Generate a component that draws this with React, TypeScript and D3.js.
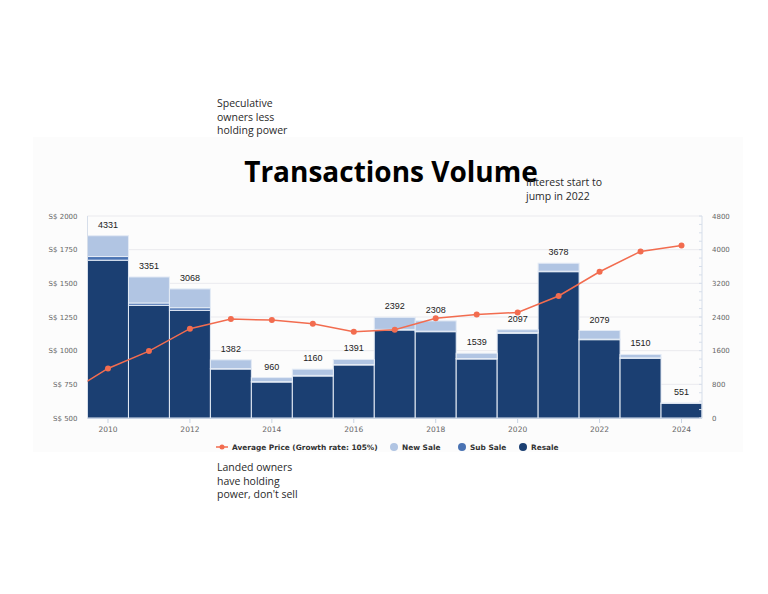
import { useEffect, useRef } from "react"
import * as d3 from "d3"

const years = [2010, 2011, 2012, 2013, 2014, 2015, 2016, 2017, 2018, 2019, 2020, 2021, 2022, 2023, 2024]
const resale = [3750, 2678, 2559, 1164, 855, 998, 1260, 2091, 2051, 1402, 2013, 3477, 1861, 1419, 350]
const subSale = [87, 55, 62, 10, 10, 15, 11, 15, 12, 12, 20, 11, 13, 11, 0]
const newSale = [494, 618, 447, 208, 95, 147, 120, 286, 245, 125, 64, 190, 205, 80, 5]
const totalLabels = [4331, 3351, 3068, 1382, 960, 1160, 1391, 2392, 2308, 1539, 2097, 3678, 2079, 1510, 551]

// price line starts one year before the plot, so it enters from the left edge
const priceYears = [2009, 2010, 2011, 2012, 2013, 2014, 2015, 2016, 2017, 2018, 2019, 2020, 2021, 2022, 2023, 2024]
const avgPrice = [682, 868, 997, 1163, 1235, 1227, 1200, 1141, 1156, 1240, 1269, 1284, 1406, 1586, 1737, 1781]

const leftTicks = [500, 750, 1000, 1250, 1500, 1750, 2000]
const rightTicks = [0, 800, 1600, 2400, 3200, 4000, 4800]
const xTicks = [2010, 2012, 2014, 2016, 2018, 2020, 2022, 2024]

const seriesNames = ["Resale", "Sub Sale", "New Sale"]
const colors: Record<string, string> = {
  Resale: "#1b3f72",
  "Sub Sale": "#4a73b3",
  "New Sale": "#b1c5e3",
}
const lineColor = "#f26c4f"

const notes = [
  { x: 217, y: 107, lines: ["Speculative", "owners less", "holding power"] },
  { x: 526, y: 186, lines: ["Interest start to", "jump in 2022"] },
  { x: 217, y: 471, lines: ["Landed owners", "have holding", "power, don't sell"] },
]

export default function App() {
  const svgRef = useRef<SVGSVGElement>(null)

  useEffect(() => {
    if (!svgRef.current) return
    const svg = d3.select(svgRef.current)
    svg.selectAll("*").remove()

    const left = 87.5
    const right = 702
    const top = 216
    const bottom = 418

    // card background
    svg.append("rect").attr("x", 33).attr("y", 137).attr("width", 710).attr("height", 315).attr("fill", "#fcfcfc")

    const x = d3.scaleLinear().domain([2009.5, 2024.5]).range([left, right])
    const yL = d3.scaleLinear().domain([500, 2000]).range([bottom, top])
    const yR = d3.scaleLinear().domain([0, 4800]).range([bottom, top])

    // gridlines
    svg
      .selectAll(".grid")
      .data(rightTicks)
      .enter()
      .append("line")
      .attr("x1", left)
      .attr("x2", right)
      .attr("y1", (d) => yR(d))
      .attr("y2", (d) => yR(d))
      .attr("stroke", "#eaeaee")
      .attr("stroke-width", 1)

    // stacked bars
    const rows = years.map((yr, i) => ({ year: yr, Resale: resale[i], "Sub Sale": subSale[i], "New Sale": newSale[i] }))
    const stack = d3.stack<any>().keys(seriesNames)(rows)

    svg
      .selectAll(".layer")
      .data(stack)
      .enter()
      .append("g")
      .attr("fill", (d) => colors[d.key])
      .selectAll("rect")
      .data((d) => d)
      .enter()
      .append("rect")
      .attr("x", (d) => x(d.data.year - 0.5))
      .attr("width", (d) => x(d.data.year + 0.5) - x(d.data.year - 0.5))
      .attr("y", (d) => yR(d[1]))
      .attr("height", (d) => yR(d[0]) - yR(d[1]))
      .attr("stroke", "#e4ebf5")
      .attr("stroke-width", 1)

    // total labels above bars
    const tops = stack[stack.length - 1]
    svg
      .selectAll(".total")
      .data(tops)
      .enter()
      .append("text")
      .attr("x", (d) => x(d.data.year))
      .attr("y", (d) => yR(d[1]) - 8)
      .attr("text-anchor", "middle")
      .style("font-family", "Liberation Sans, Arial, sans-serif")
      .style("font-size", "9px")
      .style("fill", "#222")
      .text((d, i) => totalLabels[i])

    // axis lines
    svg.append("line").attr("x1", left).attr("x2", left).attr("y1", top).attr("y2", bottom).attr("stroke", "#d6deea")
    svg.append("line").attr("x1", right).attr("x2", right).attr("y1", top).attr("y2", bottom).attr("stroke", "#d6deea")
    svg.append("line").attr("x1", left).attr("x2", right).attr("y1", bottom + 0.5).attr("y2", bottom + 0.5).attr("stroke", "#c8d3e3")

    // minor ticks on right axis
    svg
      .selectAll(".minor")
      .data(d3.range(0, 4801, 200))
      .enter()
      .append("line")
      .attr("x1", right - 3)
      .attr("x2", right)
      .attr("y1", (d) => yR(d))
      .attr("y2", (d) => yR(d))
      .attr("stroke", "#d6deea")

    // x ticks
    svg
      .selectAll(".xtick")
      .data(xTicks)
      .enter()
      .append("line")
      .attr("x1", (d) => x(d))
      .attr("x2", (d) => x(d))
      .attr("y1", bottom)
      .attr("y2", bottom + 5)
      .attr("stroke", "#c8d3e3")

    const axisFont = "DejaVu Sans, Verdana, sans-serif"
    svg
      .selectAll(".xlabel")
      .data(xTicks)
      .enter()
      .append("text")
      .attr("x", (d) => x(d))
      .attr("y", 432)
      .attr("text-anchor", "middle")
      .style("font-family", axisFont)
      .style("font-size", "7.5px")
      .style("fill", "#666")
      .text((d) => d)

    svg
      .selectAll(".ylabel")
      .data(leftTicks)
      .enter()
      .append("text")
      .attr("x", 77.5)
      .attr("y", (d) => yL(d) + 2.5)
      .attr("text-anchor", "end")
      .style("font-family", axisFont)
      .style("font-size", "7px")
      .style("fill", "#666")
      .text((d) => `S$ ${d}`)

    svg
      .selectAll(".rlabel")
      .data(rightTicks)
      .enter()
      .append("text")
      .attr("x", 712)
      .attr("y", (d) => yR(d) + 2.5)
      .style("font-family", axisFont)
      .style("font-size", "7px")
      .style("fill", "#666")
      .text((d) => d)

    // average price line, clipped to plot area
    svg
      .append("clipPath")
      .attr("id", "plot-clip")
      .append("rect")
      .attr("x", left)
      .attr("y", top - 10)
      .attr("width", right - left)
      .attr("height", bottom - top + 10)

    const pts = priceYears.map((yr, i) => [yr, avgPrice[i]] as [number, number])
    const line = d3
      .line<[number, number]>()
      .x((d) => x(d[0]))
      .y((d) => yL(d[1]))

    const lg = svg.append("g").attr("clip-path", "url(#plot-clip)")
    lg.append("path").attr("d", line(pts)).attr("fill", "none").attr("stroke", lineColor).attr("stroke-width", 1.5)
    lg.selectAll("circle")
      .data(pts.filter((d) => d[0] >= 2010))
      .enter()
      .append("circle")
      .attr("cx", (d) => x(d[0]))
      .attr("cy", (d) => yL(d[1]))
      .attr("r", 3)
      .attr("fill", lineColor)

    // legend
    const legend = [
      { label: "Average Price (Growth rate: 105%)", color: lineColor, type: "line", x: 216 },
      { label: "New Sale", color: colors["New Sale"], type: "dot", x: 394 },
      { label: "Sub Sale", color: colors["Sub Sale"], type: "dot", x: 462 },
      { label: "Resale", color: colors.Resale, type: "dot", x: 523 },
    ]
    const ly = 447
    legend.forEach((l) => {
      const g = svg.append("g")
      let tx = l.x + 8
      if (l.type === "line") {
        g.append("line").attr("x1", l.x).attr("x2", l.x + 12).attr("y1", ly).attr("y2", ly).attr("stroke", l.color).attr("stroke-width", 1.5)
        g.append("circle").attr("cx", l.x + 6).attr("cy", ly).attr("r", 2.5).attr("fill", l.color)
        tx = l.x + 16
      } else {
        g.append("circle").attr("cx", l.x).attr("cy", ly).attr("r", 4).attr("fill", l.color)
      }
      g.append("text")
        .attr("x", tx)
        .attr("y", ly + 2.5)
        .style("font-family", axisFont)
        .style("font-size", "7.4px")
        .style("font-weight", "bold")
        .style("fill", "#333")
        .text(l.label)
    })

    // title
    svg
      .append("text")
      .attr("x", 391)
      .attr("y", 182)
      .attr("text-anchor", "middle")
      .style("font-family", "Open Sans, sans-serif")
      .style("font-size", "28px")
      .style("font-weight", "bold")
      .style("fill", "#000")
      .text("Transactions Volume")

    // annotations
    notes.forEach((n) => {
      n.lines.forEach((t, i) => {
        svg
          .append("text")
          .attr("x", n.x)
          .attr("y", n.y + i * 13.5)
          .style("font-family", "Open Sans, sans-serif")
          .style("font-size", "10.5px")
          .style("fill", "#2a2a2a")
          .text(t)
      })
    })
  }, [])

  return (
    <div style={{ position: "absolute", left: 0, top: 0 }}>
      <svg ref={svgRef} width={768} height={594} style={{ display: "block", background: "#fff" }}></svg>
    </div>
  )
}
